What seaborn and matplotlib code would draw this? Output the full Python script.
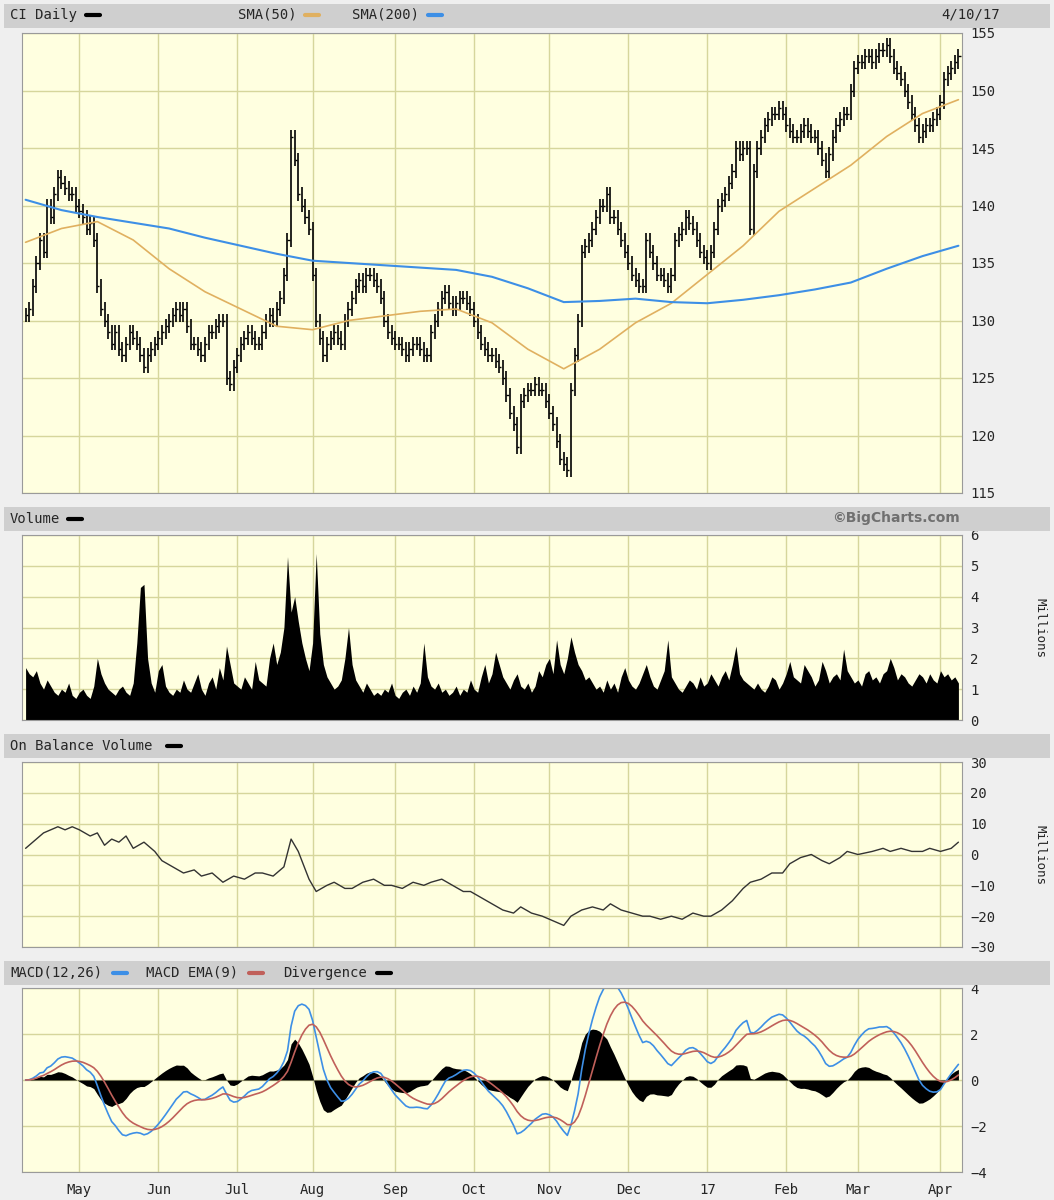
import numpy as np
import pandas as pd
import matplotlib
matplotlib.use("Agg")
import matplotlib.pyplot as plt
import seaborn as sns
from matplotlib.patches import Rectangle

# daily closes, CI, 2016-04-11 .. 2017-04-10
closes = [
    130.5, 131, 133, 135, 137, 136, 140, 139, 141, 142.5,
    142, 141.5, 141, 141, 140, 139.5, 139, 138, 138.5, 137,
    133, 131, 130, 129, 128, 129, 127.5, 127, 128, 129,
    128.5, 128, 127, 126, 127, 127.5, 128, 128.5, 129, 129.5,
    130, 130.5, 131, 130.5, 131, 129.5, 128, 128, 127.5, 127,
    128, 129, 129, 129.5, 130, 130, 125, 124.5, 126, 127,
    128, 128.5, 129, 128.5, 128, 128, 129, 130, 130.5, 130,
    131, 132, 134, 137, 146, 144, 141, 140, 139, 138,
    134, 130, 128.5, 127, 128, 128.5, 129, 128.5, 128, 130,
    131, 132, 133, 133.5, 133, 134, 134, 133.5, 133, 132,
    130, 129, 128.5, 128, 128, 127.5, 127, 127.5, 128, 128,
    127.5, 127, 127, 129, 130, 131, 132, 132.5, 131.5, 131,
    131.5, 132, 132, 131.5, 131, 130, 129, 128, 127.5, 127,
    127, 126.5, 126, 125, 123.5, 122, 121, 119, 123, 123.5,
    124, 124, 124.5, 124, 124, 123, 122, 121, 119.5, 118,
    117.5, 117, 124, 127, 130, 136, 136.5, 137, 138, 139,
    140, 140, 141, 139, 139, 138, 137, 136, 135, 134,
    133.5, 133, 133, 137, 136, 135, 134, 134, 133.5, 133,
    134, 137, 137.5, 138, 139, 138.5, 138, 137, 136, 135.5,
    135, 136, 138, 140, 140.5, 141, 142, 143, 145, 144.5,
    145, 145, 138, 143, 145, 146, 147, 147.5, 148, 148,
    148.5, 148, 147, 146.5, 146, 146, 146.5, 147, 146.5, 146,
    146, 145, 144, 143, 144.5, 146, 147, 147.5, 148, 148,
    150, 152, 152.5, 152.5, 153, 153, 152.5, 153, 153.5, 153.5,
    154, 153, 152, 151.5, 151, 150, 149, 148, 147, 146,
    146.5, 147, 147, 147.5, 148, 149, 151, 151.5, 152, 152.5, 153,
]

# daily volume, millions
volume = [
    1.7, 1.5, 1.4, 1.6, 1.2, 1.0, 1.3, 1.1, 0.9, 0.8,
    1.0, 0.9, 1.2, 0.8, 0.7, 0.9, 1.0, 0.8, 0.7, 1.1,
    2.0, 1.5, 1.2, 1.0, 0.9, 0.8, 1.0, 1.1, 0.9, 0.8,
    1.2, 2.5, 4.3, 4.4, 2.0, 1.2, 0.9, 1.6, 1.8, 1.1,
    0.9, 0.8, 1.0, 0.9, 1.3, 1.0, 0.9, 1.2, 1.5, 1.0,
    0.8, 1.2, 1.4, 1.0, 1.7, 1.3, 2.4, 1.8, 1.2, 1.1,
    1.0, 1.4, 1.2, 1.0, 1.9, 1.3, 1.2, 1.1, 2.0, 2.5,
    1.8, 2.2, 3.0, 5.3, 3.5, 4.0, 3.2, 2.5, 2.0, 1.6,
    2.5, 5.4, 2.8, 1.8, 1.4, 1.2, 1.0, 1.1, 1.3, 2.0,
    3.0, 1.8, 1.3, 1.1, 0.9, 1.2, 1.0, 0.8, 0.9, 0.8,
    1.0, 0.9, 1.2, 0.8, 0.7, 0.9, 1.0, 0.8, 1.1, 0.9,
    1.2, 2.5, 1.4, 1.1, 1.0, 1.2, 0.9, 1.0, 0.8, 0.9,
    1.1, 0.8, 1.0, 0.9, 1.3, 1.0, 0.9, 1.4, 1.8, 1.2,
    1.5, 2.2, 1.8, 1.4, 1.2, 1.0, 1.3, 1.5, 1.1, 1.0,
    1.2, 0.9, 1.1, 1.6, 1.4, 1.8, 2.0, 1.5, 2.6, 1.8,
    1.5, 2.0, 2.7, 2.2, 1.8, 1.6, 1.3, 1.4, 1.2, 1.0,
    1.1, 0.9, 1.3, 1.0, 1.2, 0.9, 1.4, 1.7, 1.3, 1.1,
    1.0, 1.2, 1.5, 1.8, 1.4, 1.1, 1.0, 1.3, 1.6, 2.6,
    1.4, 1.2, 1.0, 0.9, 1.1, 1.3, 1.2, 1.0, 1.4, 1.1,
    1.2, 1.5, 1.3, 1.1, 1.4, 1.6, 1.3, 1.8, 2.4, 1.5,
    1.3, 1.2, 1.1, 1.0, 1.2, 1.0, 0.9, 1.1, 1.4, 1.3,
    1.0, 1.2, 1.5, 1.9, 1.4, 1.3, 1.2, 1.8, 1.6, 1.4,
    1.1, 1.3, 1.9, 1.6, 1.2, 1.4, 1.5, 1.3, 2.3, 1.6,
    1.4, 1.2, 1.3, 1.1, 1.5, 1.6, 1.3, 1.4, 1.2, 1.5,
    1.6, 2.0, 1.7, 1.3, 1.5, 1.4, 1.2, 1.1, 1.3, 1.5,
    1.4, 1.2, 1.5, 1.3, 1.2, 1.6, 1.4, 1.5, 1.3, 1.4, 1.2,
]

# moving averages read at every 10th trading day
sma_days = [0, 10, 20, 30, 40, 50, 60, 70, 80, 90, 100, 110, 120, 130, 140,
            150, 160, 170, 180, 190, 200, 210, 220, 230, 240, 250, 260]
sma50 = [136.8, 138.0, 138.6, 137.0, 134.5, 132.5, 131.0, 129.5, 129.2, 130.0,
         130.4, 130.8, 131.0, 129.8, 127.5, 125.8, 127.5, 129.8, 131.5, 134.0,
         136.5, 139.5, 141.5, 143.5, 146.0, 148.0, 149.2]
sma200 = [140.5, 139.6, 139.0, 138.5, 138.0, 137.2, 136.5, 135.8, 135.2, 135.0,
          134.8, 134.6, 134.4, 133.8, 132.8, 131.6, 131.7, 131.9, 131.6, 131.5,
          131.8, 132.2, 132.7, 133.3, 134.5, 135.6, 136.5]

# on balance volume (millions)
obv_days = [0, 3, 5, 7, 9, 11, 13, 15, 18, 20, 22, 24, 26, 28, 30, 33, 36, 38, 41, 44,
            47, 49, 52, 55, 58, 61, 64, 66, 69, 72, 74, 76, 77, 79, 81, 84, 86, 89, 91,
            94, 97, 100, 102, 105, 108, 111, 113, 116, 119, 122, 124, 127, 130, 133,
            136, 138, 141, 144, 148, 150, 152, 155, 158, 161, 163, 166, 169, 172, 174,
            177, 180, 183, 186, 189, 191, 194, 197, 200, 202, 205, 208, 211, 213, 216,
            219, 222, 224, 227, 229, 232, 236, 239, 241, 244, 247, 250, 252, 255, 258, 260]
obv = [2, 5, 7, 8, 9, 8, 9, 8, 6, 7, 3, 5, 4, 6, 2, 4, 1, -2, -4, -6,
       -5, -7, -6, -9, -7, -8, -6, -6, -7, -4, 5, 1, -2, -8, -12, -10, -9, -11, -11,
       -9, -8, -10, -10, -11, -9, -10, -9, -8, -10, -12, -12, -14, -16, -18,
       -19, -17, -19, -20, -22, -23, -20, -18, -17, -18, -16, -18, -19, -20, -20,
       -21, -20, -21, -19, -20, -20, -18, -15, -11, -9, -8, -6, -6, -3, -1,
       0, -2, -3, -1, 1, 0, 1, 2, 1, 2, 1, 1, 2, 1, 2, 4]

month_labels = ["May", "Jun", "Jul", "Aug", "Sep", "Oct", "Nov", "Dec",
                "17", "Feb", "Mar", "Apr"]

dates = pd.bdate_range("2016-04-11", "2017-04-10")
n = len(dates)
df = pd.DataFrame({"day": np.arange(n), "close": closes, "vol": volume})
prev = df["close"].shift(1).fillna(df["close"])
df["high"] = np.maximum(df["close"], prev) + 0.6
df["low"] = np.minimum(df["close"], prev) - 0.6
ema12 = df["close"].ewm(span=12).mean()
ema26 = df["close"].ewm(span=26).mean()
df["macd"] = ema12 - ema26
df["signal"] = df["macd"].ewm(span=9).mean()
df["div"] = df["macd"] - df["signal"]

month_pos = [i for i in range(1, n) if dates[i].month != dates[i - 1].month]

sns.set_style("white")
plt.rcParams["font.family"] = ["DejaVu Sans Mono", "DejaVu Sans"]

W, H = 1054, 1200
fig = plt.figure(figsize=(W / 100, H / 100), dpi=100)
fig.patch.set_facecolor("#efefef")

BG = "#ffffe0"
GRID = "#d6d69c"
hdr_bars = [(4, 28), (507, 531), (734, 758), (961, 985)]
for top, bot in hdr_bars:
    fig.patches.append(Rectangle((4 / W, 1 - bot / H), 1046 / W, (bot - top) / H,
                                 transform=fig.transFigure, facecolor="#cfcfcf",
                                 edgecolor="none", zorder=0))


def panel(top, bot):
    ax = fig.add_axes([22 / W, 1 - bot / H, 940 / W, (bot - top) / H])
    ax.set_facecolor(BG)
    ax.set_xlim(-1, n)
    ax.set_xticks(month_pos)
    ax.set_xticklabels([])
    ax.grid(True, color=GRID, lw=1.0)
    ax.yaxis.tick_right()
    ax.tick_params(length=0, labelsize=10, pad=6)
    for s in ax.spines.values():
        s.set_color("#9a9a9a")
    return ax


def header(y, parts):
    for x, txt, col in parts:
        fig.text(x / W, 1 - y / H, txt, fontsize=10, va="center", ha="left")
        if col:
            xe = x + 9 * len(txt) + 4
            fig.lines.append(plt.Line2D([xe / W, (xe + 14) / W], [1 - y / H] * 2,
                                        color=col, lw=3, transform=fig.transFigure))


# price
ax1 = panel(33, 493)
ax1.vlines(df["day"], df["low"], df["high"], color="black", lw=1.2)
ax1.hlines(df["close"], df["day"], df["day"] + 0.6, color="black", lw=1)
sns.lineplot(x=sma_days, y=sma50, ax=ax1, color="#e0b060", lw=1.2)
sns.lineplot(x=sma_days, y=sma200, ax=ax1, color="#3d8fe6", lw=1.5)
ax1.set_ylim(115, 155)
ax1.set_yticks(range(115, 156, 5))
header(15, [(10, "CI Daily", "black"), (238, "SMA(50)", "#e0b060"), (352, "SMA(200)", "#3d8fe6")])
fig.text(1000 / W, 1 - 15 / H, "4/10/17", fontsize=10, va="center", ha="right")

# volume
ax2 = panel(535, 720)
ax2.fill_between(df["day"], 0, df["vol"], color="black", lw=0)
ax2.set_ylim(0, 6)
ax2.set_yticks(range(0, 7))
header(519, [(10, "Volume", "black")])
fig.text(960 / W, 1 - 518 / H, "©BigCharts.com", fontsize=10, va="center", ha="right",
         color="#707070", fontweight="bold", family="DejaVu Sans")
fig.text(1040 / W, 1 - 628 / H, "Millions", rotation=-90, fontsize=9, va="center", ha="center")

# OBV
ax3 = panel(762, 947)
sns.lineplot(x=obv_days, y=obv, ax=ax3, color="#333333", lw=1)
ax3.set_ylim(-30, 30)
ax3.set_yticks(range(-30, 31, 10))
header(746, [(10, "On Balance Volume", "black")])
fig.text(1040 / W, 1 - 855 / H, "Millions", rotation=-90, fontsize=9, va="center", ha="center")

# MACD
ax4 = panel(988, 1172)
ax4.fill_between(df["day"], 0, df["div"], color="black", lw=0)
sns.lineplot(data=df, x="day", y="macd", ax=ax4, color="#3d8fe6", lw=1.2)
sns.lineplot(data=df, x="day", y="signal", ax=ax4, color="#c0605a", lw=1.2)
ax4.set_ylim(-4, 4)
ax4.set_yticks(range(-4, 5, 2))
ax4.set_xticklabels(month_labels)
ax4.tick_params(axis="x", pad=8)
header(973, [(10, "MACD(12,26)", "#3d8fe6"), (146, "MACD EMA(9)", "#c0605a"), (283, "Divergence", "black")])

for ax in (ax1, ax2, ax3, ax4):
    ax.set_xlabel("")
    ax.set_ylabel("")

fig.savefig("out.png", dpi=100, facecolor=fig.get_facecolor())
